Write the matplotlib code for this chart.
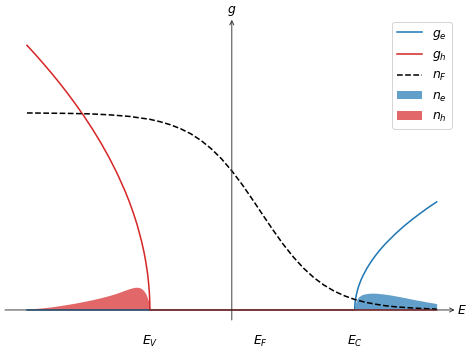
import matplotlib
matplotlib.use("Agg")
import matplotlib.pyplot as plt

# ---- data ----
E_V, E_F, E_C = -1.0, 0.35, 1.5
band_labels = ["$E_V$", "$E_F$", "$E_C$"]

# hole density of states g_h (zero above E_V)
E_gh = [-2.5, -2.4, -2.3, -2.2, -2.1, -2.0, -1.9, -1.8, -1.7, -1.6, -1.5,
        -1.4, -1.3, -1.25, -1.2, -1.15, -1.1, -1.07, -1.05, -1.03, -1.02,
        -1.01, -1.005, -1.002, -1.0, 2.5]
g_h = [2.449, 2.366, 2.280, 2.191, 2.098, 2.0, 1.897, 1.789, 1.673, 1.549,
       1.414, 1.265, 1.095, 1.0, 0.894, 0.775, 0.632, 0.529, 0.447, 0.346,
       0.283, 0.2, 0.141, 0.089, 0.0, 0.0]

# electron density of states g_e (zero below E_C)
E_ge = [-2.5, 1.5, 1.502, 1.505, 1.51, 1.52, 1.535, 1.55, 1.575, 1.6, 1.65,
        1.7, 1.75, 1.8, 1.85, 1.9, 2.0, 2.1, 2.2, 2.3, 2.4, 2.5]
g_e = [0.0, 0.0, 0.045, 0.071, 0.1, 0.141, 0.187, 0.224, 0.274, 0.316,
       0.387, 0.447, 0.5, 0.548, 0.592, 0.632, 0.707, 0.775, 0.837, 0.894,
       0.949, 1.0]

# Fermi occupation (scaled)
E_nf = [-2.5, -2.25, -2.0, -1.75, -1.5, -1.25, -1.0, -0.875, -0.75, -0.625,
        -0.5, -0.375, -0.25, -0.125, 0.0, 0.125, 0.25, 0.375, 0.5, 0.625,
        0.75, 0.875, 1.0, 1.125, 1.25, 1.375, 1.5, 1.625, 1.75, 1.875, 2.0,
        2.25, 2.5]
n_F = [1.823, 1.821, 1.819, 1.815, 1.806, 1.791, 1.764, 1.742, 1.714, 1.677,
       1.63, 1.568, 1.491, 1.398, 1.287, 1.162, 1.025, 0.883, 0.743, 0.610,
       0.491, 0.387, 0.300, 0.230, 0.174, 0.131, 0.097, 0.072, 0.054, 0.039,
       0.029, 0.016, 0.008]

# electron density n_e
E_ne = [1.5, 1.502, 1.506, 1.512, 1.52, 1.535, 1.55, 1.575, 1.6, 1.64, 1.68,
        1.72, 1.76, 1.8, 1.85, 1.9, 1.95, 2.0, 2.05, 2.1, 2.15, 2.2, 2.25,
        2.3, 2.35, 2.4, 2.45, 2.5]
n_e = [0.0, 0.03, 0.05, 0.07, 0.088, 0.108, 0.122, 0.136, 0.145, 0.151,
       0.155, 0.156, 0.155, 0.152, 0.148, 0.143, 0.137, 0.130, 0.123, 0.116,
       0.108, 0.100, 0.093, 0.086, 0.079, 0.072, 0.066, 0.058]

# hole density n_h
E_nh = [-2.5, -2.4, -2.3, -2.2, -2.1, -2.0, -1.9, -1.8, -1.7, -1.6, -1.5,
        -1.42, -1.35, -1.3, -1.25, -1.21, -1.18, -1.15, -1.12, -1.1, -1.08,
        -1.065, -1.05, -1.04, -1.03, -1.02, -1.012, -1.006, -1.002, -1.0]
n_h = [0.009, 0.014, 0.02, 0.029, 0.04, 0.052, 0.065, 0.08, 0.095, 0.113,
       0.133, 0.151, 0.17, 0.184, 0.197, 0.205, 0.21, 0.21, 0.205, 0.196,
       0.183, 0.168, 0.15, 0.133, 0.11, 0.09, 0.07, 0.05, 0.03, 0.0]

# ---- figure ----
fig = plt.figure(figsize=(6.4, 4.8), dpi=74)
ax = fig.add_axes([0, 0, 1, 1])
ax.set_xlim(-2.829, 2.951)
ax.set_ylim(-0.4167, 2.870)
ax.axis("off")

ax.plot(E_ge, g_e, color="tab:blue", lw=1.5, label="$g_e$")
ax.plot(E_gh, g_h, color="tab:red", lw=1.5, label="$g_h$")
ax.plot(E_nf, n_F, color="black", ls="--", lw=1.5, label="$n_F$")
ax.fill_between(E_ne, n_e, 0, color="tab:blue", alpha=0.7, lw=0, label="$n_e$")
ax.fill_between(E_nh, n_h, 0, color="tab:red", alpha=0.7, lw=0, label="$n_h$")

# axes as arrows
arrow_kw = dict(arrowstyle="->", color="#333333", lw=0.9, shrinkA=0, shrinkB=0)
ax.annotate("", xy=(2.72, 0), xytext=(-2.768, 0), arrowprops=arrow_kw)
ax.annotate("", xy=(0, 2.685), xytext=(0, -0.093), arrowprops=arrow_kw)
ax.text(2.75, 0, "$E$", fontsize=12, ha="left", va="center")
ax.text(0, 2.70, "$g$", fontsize=12, ha="center", va="bottom")

for xv, lab in zip([E_V, E_F, E_C], band_labels):
    ax.text(xv, -0.29, lab, fontsize=12, ha="center", va="center")

fig.legend(loc="upper right", bbox_to_anchor=(452 / 474, 1 - 22 / 355),
           borderaxespad=0, fontsize=12)

fig.savefig("out.png", dpi=74)
